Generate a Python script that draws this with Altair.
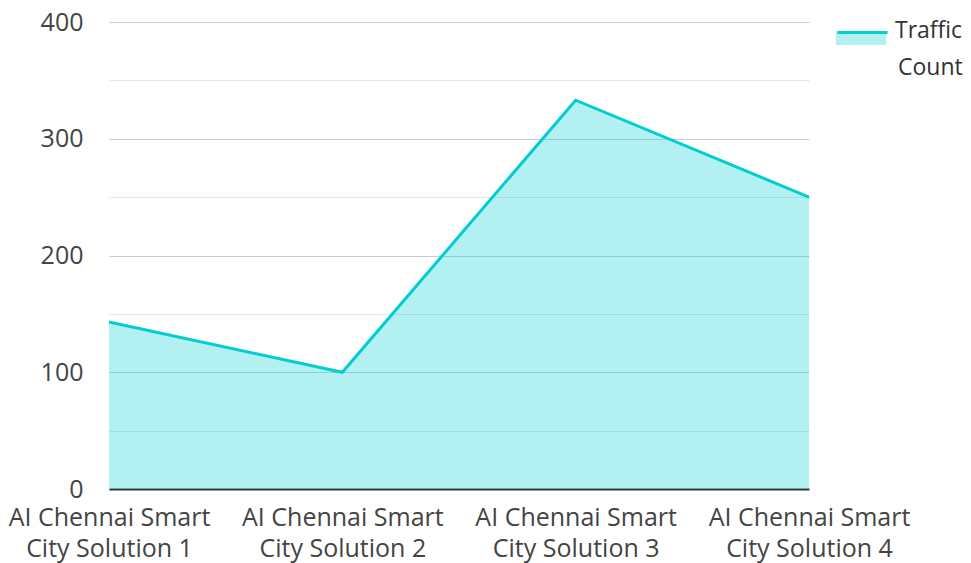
import altair as alt
import pandas as pd

categories = [
    "AI Chennai Smart City Solution 1",
    "AI Chennai Smart City Solution 2",
    "AI Chennai Smart City Solution 3",
    "AI Chennai Smart City Solution 4",
]
traffic = [143, 100, 333, 250]
series_name = "Traffic Count"

df = pd.DataFrame({
    "cat": categories,
    "value": traffic,
    "s_line": [series_name] * len(categories),
    "s_area": [series_name] * len(categories),
})

TEAL = "#00CED1"
FONT = "Open Sans"

x_enc = alt.X(
    "cat:N",
    sort=categories,
    scale=alt.Scale(type="point", padding=0),
    axis=alt.Axis(
        title=None,
        labelAngle=0,
        labelExpr="[slice(datum.label, 0, 16), slice(datum.label, 17)]",
        labelFontSize=25,
        labelLineHeight=31,
        labelColor="#444444",
        labelPadding=16,
        labelBaseline="top",
        ticks=False,
        domainColor="#333333",
        domainWidth=2,
        grid=False,
        labelLimit=400,
    ),
)

y_enc = alt.Y(
    "value:Q",
    scale=alt.Scale(domain=[0, 400], nice=False),
    axis=alt.Axis(
        title=None,
        values=[0, 50, 100, 150, 200, 250, 300, 350, 400],
        labelExpr="datum.value % 100 === 0 ? datum.label : ''",
        labelFontSize=25,
        labelColor="#444444",
        labelPadding=26,
        ticks=False,
        domain=False,
        grid=True,
        gridColor={"condition": {"test": "datum.value % 100 === 0", "value": "#cccccc"}, "value": "#e6e6e6"},
        gridWidth=1.2,
    ),
)

LEG_X = 727
LEG_Y = -9
LINE_GAP = 35  # vertical distance between the two label lines
LEG_FONT = 23

# area legend: filled swatch + first word of the series name
area = alt.Chart(df).mark_area(fillOpacity=0.3, interpolate="linear").encode(
    x=x_enc,
    y=y_enc,
    fill=alt.Fill(
        "s_area:N",
        scale=alt.Scale(range=[TEAL]),
        legend=alt.Legend(
            title=None,
            orient="none",
            legendX=LEG_X,
            legendY=LEG_Y,
            padding=0,
            symbolType="M-1,-0.28L1,-0.28L1,0.28L-1,0.28Z",
            symbolSize=2500,
            symbolStrokeWidth=0,
            symbolOpacity=0.3,
            labelFontSize=LEG_FONT,
            labelFont=FONT,
            labelColor="#333333",
            labelOffset=9,
            labelBaseline="alphabetic",
            labelExpr="split(datum.label, ' ')[0]",
        ),
    ),
)

# line legend: stroke on top of swatch + second word, placed one line lower
line = alt.Chart(df).mark_line(strokeWidth=3, interpolate="linear").encode(
    x=x_enc,
    y=y_enc,
    stroke=alt.Stroke(
        "s_line:N",
        scale=alt.Scale(range=[TEAL]),
        legend=alt.Legend(
            title=None,
            orient="none",
            legendX=LEG_X,
            legendY=LEG_Y + LINE_GAP,
            padding=0,
            symbolType="M-1,-1.68L1,-1.68",
            symbolSize=2500,
            symbolStrokeWidth=3,
            labelFontSize=LEG_FONT,
            labelFont=FONT,
            labelColor="#333333",
            labelOffset=9,
            labelBaseline="alphabetic",
            labelExpr="split(datum.label, ' ')[1]",
        ),
    ),
)

chart = alt.layer(area, line).properties(
    width=700,
    height=467,
    padding={"left": 0, "top": 2, "right": 0, "bottom": 2},
).configure(
    font=FONT
).configure_view(
    stroke=None
).configure_axis(
    labelFont=FONT
)

chart.save("out.html", embed_options={"renderer": "svg", "actions": False})
